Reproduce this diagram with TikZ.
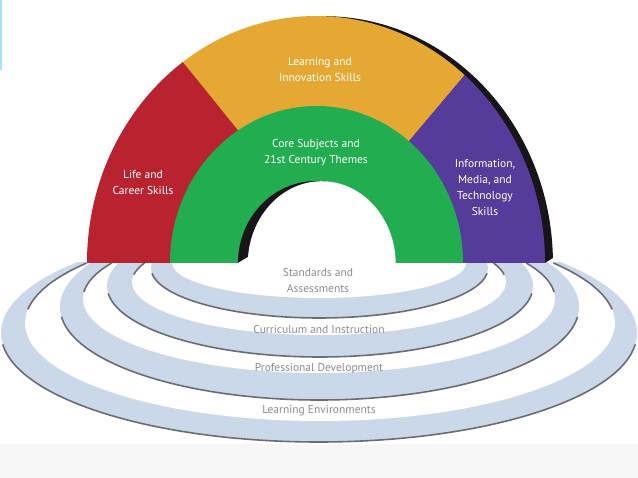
\documentclass[tikz,border=0pt]{standalone}
\usepackage{fontspec}
\setmainfont{PT Sans}
\usetikzlibrary{arrows}
\definecolor{ringblue}{HTML}{CBD8EA}
\definecolor{ringline}{HTML}{6A6E74}
\definecolor{archred}{HTML}{B9232F}
\definecolor{archyellow}{HTML}{E5A933}
\definecolor{archpurple}{HTML}{553C9A}
\definecolor{archgreen}{HTML}{22AE50}
\definecolor{archblack}{HTML}{17151A}
\definecolor{labelgray}{HTML}{8C8C8C}
\begin{document}
\begin{tikzpicture}[x=1pt,y=1pt]
 \tikzstyle{every node}=[align=center,font=\fontsize{11.5}{16}\selectfont]
 \tikzstyle{a} = [text=white]
 \tikzstyle{g} = [text=labelgray]
 \tikzstyle{r} = [fill=ringblue]
 \tikzstyle{w} = [fill=white]
 \tikzstyle{s} = [draw=ringline,line width=1.6pt]
 \useasboundingbox (0,0) rectangle (638,478);
 \fill[white] (0,0) rectangle (638,478);
 \fill[black!3] (0,0) rectangle (638,34);
 \fill[cyan!35] (0,408) rectangle (1.5,478);
 \begin{scope}
  \clip (0,0) rectangle (638,215);
  \fill[r] (319,145) ellipse [x radius=318,y radius=109];
  \draw[s] (319,145) ++(186:318 and 109) arc [start angle=186,end angle=354,x radius=318,y radius=109];
  \fill[w] (320,155) ellipse [x radius=295,y radius=98];
  \draw[s] (320,155) ++(142.3:295 and 98) arc [start angle=142.3,end angle=172,x radius=295,y radius=98];
  \draw[s] (320,155) ++(37.7:295 and 98) arc [start angle=37.7,end angle=8,x radius=295,y radius=98];
  \fill[r] (319.5,171) ellipse [x radius=259.5,y radius=93];
  \draw[s] (319.5,171) ++(186:259.5 and 93) arc [start angle=186,end angle=354,x radius=259.5,y radius=93];
  \fill[w] (319,179.4) ellipse [x radius=236,y radius=74.4];
  \draw[s] (319,179.4) ++(151.4:236 and 74.4) arc [start angle=151.4,end angle=175,x radius=236,y radius=74.4];
  \draw[s] (319,179.4) ++(28.6:236 and 74.4) arc [start angle=28.6,end angle=5,x radius=236,y radius=74.4];
  \fill[r] (320,192) ellipse [x radius=213,y radius=71];
  \draw[s] (320,192) ++(186:213 and 71) arc [start angle=186,end angle=354,x radius=213,y radius=71];
  \fill[w] (319,196) ellipse [x radius=187,y radius=53];
  \draw[s] (319,196) ++(159:187 and 53) arc [start angle=159,end angle=172,x radius=187,y radius=53];
  \draw[s] (319,196) ++(21:187 and 53) arc [start angle=21,end angle=8,x radius=187,y radius=53];
  \fill[r] (319.5,210) ellipse [x radius=168.5,y radius=50];
  \draw[s] (319.5,210) ++(186:168.5 and 50) arc [start angle=186,end angle=354,x radius=168.5,y radius=50];
  \fill[w] (319,215) ellipse [x radius=147,y radius=35];
 \end{scope}
 \fill[archblack] (545,215) -- (552.9,220) arc [start angle=1.2,end angle=179,x radius=229,y radius=247] -- cycle;
 \begin{scope}
  \clip (87,215) arc [start angle=180,end angle=0,x radius=229,y radius=247] -- cycle;
  \fill[archred] (80,215) -- (316,215) -- (237,349) -- (170,432) -- (80,432) -- cycle;
  \fill[archyellow] (316,215) -- (237,349) -- (170,432) -- (170,480) -- (480,480) -- (480,421) -- (410,338) -- cycle;
  \fill[archpurple] (316,215) -- (410,338) -- (480,421) -- (560,421) -- (560,215) -- cycle;
 \end{scope}
 \fill[archgreen] (170,215) arc [start angle=180,end angle=0,x radius=146.5,y radius=157] -- cycle;
 \fill[archblack] (238,215) arc [start angle=180,end angle=0,x radius=78,y radius=82] -- cycle;
 \fill[white] (238,215) -- (248,221) arc [start angle=175,end angle=0,x radius=74,y radius=83] -- cycle;
 \draw
 node[a] (Learning) at (320,408) {Learning and\\Innovation Skills}
 (Learning) ++(-4,-83) node[a] (Core) {Core Subjects and\\21st Century Themes}
 (Core) ++(-173,-30) node[a] (Life) {Life and\\Career Skills}
 (Core) ++(169,-35) node[a] (Information) {Information,\\Media, and\\Technology\\Skills}
 (Core) ++(2,-127) node[g] (Standards) {Standards and\\Assessments}
 (Standards) ++(1,-49) node[g] (Curriculum) {Curriculum and Instruction}
 (Curriculum) ++(0,-40) node[g] (Professional) {Professional Development}
 (Professional) ++(0,-42) node[g] (Environments) {Learning Environments}
 ;
\end{tikzpicture}
\end{document}
